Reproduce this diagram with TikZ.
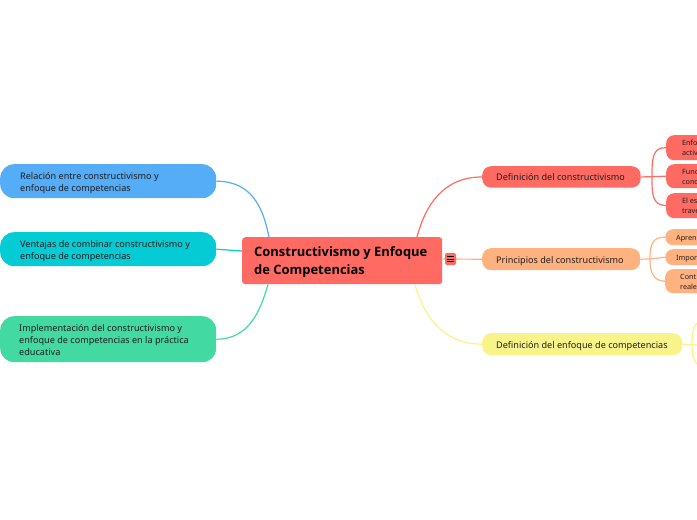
\documentclass[tikz,border=0pt]{standalone}
\usepackage{fontspec}
\setmainfont{Noto Sans}
\newfontfamily\ctrfont{Open Sans}
\definecolor{cred}{HTML}{FF6B62}
\definecolor{corange}{HTML}{FFB27F}
\definecolor{cyellow}{HTML}{F8F48A}
\definecolor{cblue}{HTML}{55ACF7}
\definecolor{ccyan}{HTML}{05CBD4}
\definecolor{cgreen}{HTML}{43D9A3}
\definecolor{ink}{HTML}{1E1E1E}
\tikzset{
  base/.style={anchor=north west,inner sep=0pt,text=ink,font=\fontsize{9.1}{12}\selectfont},
  big/.style={base,rounded corners=14pt},
  mid/.style={base,rounded corners=9pt},
  tiny/.style={base,rounded corners=8pt,font=\fontsize{7.2}{10}\selectfont},
  link/.style={line width=1.2pt}
}
\newcommand{\boxat}[9]{%
  \node[#2,fill=#8,minimum width=#5pt,minimum height=#6pt] (#1) at (#3pt,-#4pt)
  {\makebox[#5pt][l]{\hspace*{#7pt}\raisebox{-0.42em}[0pt][0pt]{\begin{tabular}[c]{@{}l@{}}#9\end{tabular}}}};}
\begin{document}
\begin{tikzpicture}[x=1pt,y=1pt]
\useasboundingbox (0,0) rectangle (697,-520);
\clip (0,0) rectangle (697,-520);
\coordinate (ja) at (652pt,-177pt);
\coordinate (jb) at (650pt,-259pt);
\coordinate (jc) at (692pt,-344pt);
\coordinate (y1) at (697pt,-323pt);
\coordinate (y2) at (697pt,-364pt);
\coordinate (y3) at (697pt,-345pt);
% nodes
\boxat{rel}{big}{0}{164}{216}{34}{20}{cblue}{Relación entre constructivismo y\\enfoque de competencias}
\boxat{ven}{big}{0}{232}{216}{34}{20}{ccyan}{Ventajas de combinar constructivismo y\\enfoque de competencias}
\boxat{imp}{big}{0}{316}{216}{46}{19}{cgreen}{Implementación del constructivismo y\\enfoque de competencias en la práctica\\educativa}
\node[anchor=north west,fill=cred,rounded corners=3pt,minimum width=200pt,minimum height=47pt,inner sep=0pt,text=black,font=\fontsize{12.95}{18}\selectfont\ctrfont\bfseries] (ctr) at (242pt,-237pt)
  {\makebox[200pt][l]{\hspace*{12pt}\raisebox{-0.33em}[0pt][0pt]{\begin{tabular}[c]{@{}l@{}}Constructivismo y Enfoque\\de Competencias\end{tabular}}}};
\boxat{dc}{mid}{482}{166}{158.5}{21.5}{14}{cred}{Definición del constructivismo}
\boxat{pc}{mid}{482}{248}{158}{22}{14}{corange}{Principios del constructivismo}
\boxat{de}{mid}{482}{333}{200}{22}{14}{cyellow}{Definición del enfoque de competencias}
\boxat{a1}{tiny}{666}{135}{60}{25}{16}{cred}{Enfo\\activ}
\boxat{a2}{tiny}{666}{164}{60}{24}{16}{cred}{Func\\conc}
\boxat{a3}{tiny}{666}{193}{60}{25}{16}{cred}{El es\\trave}
\boxat{b1}{tiny}{665}{229}{60}{16}{11}{corange}{Apren}
\boxat{b2}{tiny}{665}{249}{60}{16}{11}{corange}{Impor}
\boxat{b3}{tiny}{665}{269}{60}{24}{15}{corange}{Cont\\reale}
% connectors
\draw[link,cblue] (rel.east) .. controls +(35pt,0pt) and +(-6pt,30pt) .. ([xshift=27pt]ctr.north west);
\draw[link,ccyan] (ven.east) -- ([yshift=-14pt]ctr.north west);
\draw[link,cgreen] (imp.east) .. controls +(32pt,0pt) and +(-8pt,-28pt) .. ([xshift=26pt]ctr.south west);
\draw[link,cred] (dc.west) .. controls +(-40pt,0pt) and +(8pt,30pt) .. ([xshift=175pt]ctr.north west);
\draw[link,corange] ([yshift=-22pt]ctr.north east) -- (pc.west);
\draw[link,cyellow] (de.west) .. controls +(-40pt,0pt) and +(8pt,-30pt) .. ([xshift=173pt]ctr.south west);
\draw[link,cred] (dc.east) -- (a2.west);
\draw[link,cred] (ja) .. controls (652pt,-160pt) and (652pt,-147pt) .. (a1.west);
\draw[link,cred] (ja) .. controls (652pt,-194pt) and (652pt,-205pt) .. (a3.west);
\draw[link,corange] (pc.east) -- (jb) -- (b2.west);
\draw[link,corange] (jb) .. controls (650pt,-245pt) and (652pt,-237pt) .. (b1.west);
\draw[link,corange] (jb) .. controls (650pt,-272pt) and (653pt,-281pt) .. (b3.west);
\draw[link,cyellow] (de.east) -- (y3);
\draw[link,cyellow] (jc) .. controls (692pt,-335pt) and (693pt,-327pt) .. (y1);
\draw[link,cyellow] (jc) .. controls (692pt,-353pt) and (693pt,-360pt) .. (y2);
% collapse marker
\node[fill=cred,rounded corners=2pt,minimum width=11pt,minimum height=12pt,inner sep=0pt] (mk) at (450.5pt,-259pt) {};
\draw[line width=.8pt,black] ([xshift=-3.2pt,yshift=2.6pt]mk.center) -- ([xshift=3.2pt,yshift=2.6pt]mk.center)
  ([xshift=-3.2pt]mk.center) -- ([xshift=3.2pt]mk.center)
  ([xshift=-3.2pt,yshift=-2.6pt]mk.center) -- ([xshift=3.2pt,yshift=-2.6pt]mk.center);
\end{tikzpicture}
\end{document}
